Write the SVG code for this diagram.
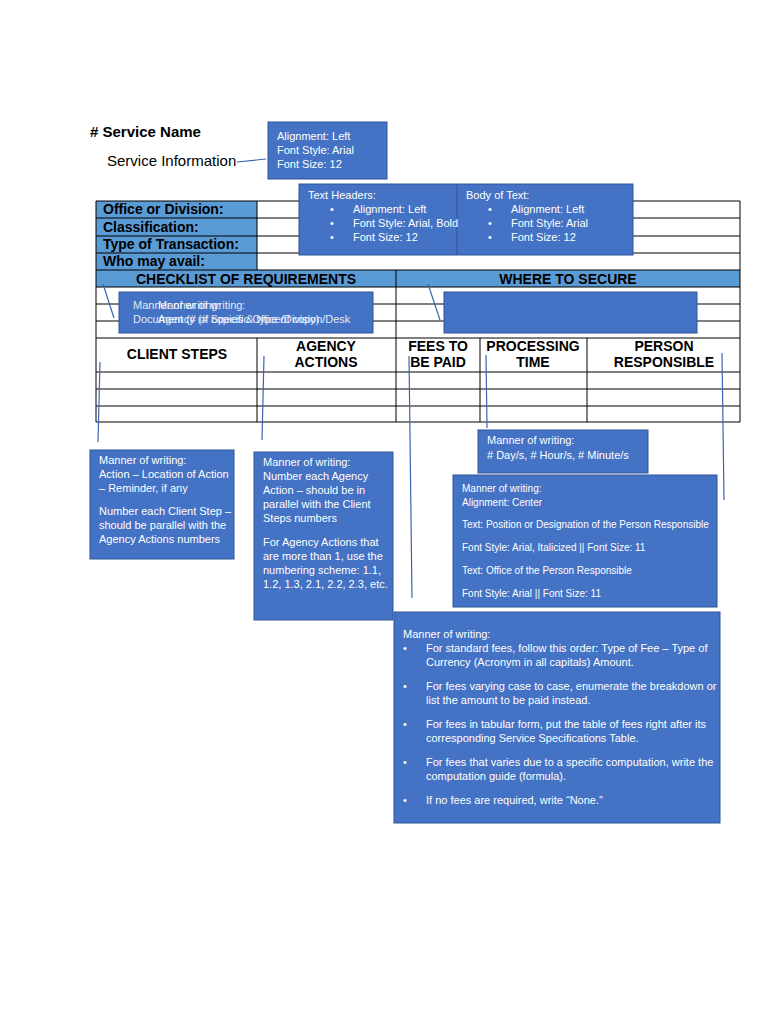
<svg xmlns="http://www.w3.org/2000/svg" width="768" height="1024" viewBox="0 0 768 1024">
<style>
.t{font-family:"Liberation Sans",Arial,sans-serif;fill:#000}
.b{font-weight:bold;font-size:14px}
.n{font-family:"Liberation Sans Narrow","Liberation Sans",sans-serif;fill:#fff;font-size:11px}
.s{font-size:10px}
.box{fill:#4472C4;stroke:#2F5597;stroke-width:1}
.g{fill:none;stroke:#000;stroke-width:1}
.lb{fill:#5B9BD5}
.c{fill:none;stroke:#3A64B0;stroke-width:1.2}
</style>
<rect width="768" height="1024" fill="#fff"/>
<text class="t" x="90" y="137" font-weight="bold" font-size="15">#  Service Name</text>
<text class="t" x="107" y="166" font-size="15">Service Information</text>
<g id="table">
<rect class="lb" x="96" y="201" width="161" height="69"/>
<rect class="lb" x="96" y="270" width="644" height="17"/>
<path class="g" d="M96 201H740M96 218H740M96 236H740M96 253H740M96 270H740M96 287H740M96 304H740M96 321H740M96 338H740M96 372H740M96 389H740M96 406H740M96 422H740M96 201V422M740 201V422M257 201V270M396 270V338M257 338V422M396 338V422M480 338V422M587 338V422"/>
<text class="t b" x="103" y="214">Office or Division:</text>
<text class="t b" x="103" y="232">Classification:</text>
<text class="t b" x="103" y="249">Type of Transaction:</text>
<text class="t b" x="103" y="266">Who may avail:</text>
<text class="t b" x="246" y="284" text-anchor="middle">CHECKLIST OF REQUIREMENTS</text>
<text class="t b" x="568" y="284" text-anchor="middle">WHERE TO SECURE</text>
<text class="t b" x="177" y="359" text-anchor="middle">CLIENT STEPS</text>
<text class="t b" x="326" y="351" text-anchor="middle">AGENCY</text>
<text class="t b" x="326" y="367" text-anchor="middle">ACTIONS</text>
<text class="t b" x="438" y="351" text-anchor="middle">FEES TO</text>
<text class="t b" x="438" y="367" text-anchor="middle">BE PAID</text>
<text class="t b" x="533" y="351" text-anchor="middle">PROCESSING</text>
<text class="t b" x="533" y="367" text-anchor="middle">TIME</text>
<text class="t b" x="664" y="351" text-anchor="middle">PERSON</text>
<text class="t b" x="664" y="367" text-anchor="middle">RESPONSIBLE</text>
</g>
<g id="connectors">
<path class="c" d="M237 162L266 159M103 284L114 318M428 284L440 320M100 362L98 442M264 356L262 440M409 356L412 598M486 355L487 428M722 353L724 500"/>
</g>
<g id="n1"><rect class="box" x="268" y="122" width="119" height="57"/>
<text class="n" x="277" y="140">Alignment: Left</text><text class="n" x="277" y="154">Font Style: Arial</text><text class="n" x="277" y="168">Font Size: 12</text></g>
<g id="n2"><rect class="box" x="299" y="184" width="334" height="71"/>
<path d="M457 184V255" stroke="#2F5597"/>
<text class="n" x="308" y="199">Text Headers:</text>
<text class="n" x="330" y="213">•</text><text class="n" x="353" y="213">Alignment: Left</text>
<text class="n" x="330" y="227">•</text><text class="n" x="353" y="227">Font Style: Arial, Bold</text>
<text class="n" x="330" y="241">•</text><text class="n" x="353" y="241">Font Size: 12</text>
<text class="n" x="466" y="199">Body of Text:</text>
<text class="n" x="488" y="213">•</text><text class="n" x="511" y="213">Alignment: Left</text>
<text class="n" x="488" y="227">•</text><text class="n" x="511" y="227">Font Style: Arial</text>
<text class="n" x="488" y="241">•</text><text class="n" x="511" y="241">Font Size: 12</text></g>
<g id="n3"><rect class="box" x="119" y="292" width="254" height="41"/>
<g opacity="0.85"><text class="n" x="133" y="309">Manner of writing:</text><text class="n" x="133" y="323">Document (# of copies &amp; type of copy)</text></g>
<g opacity="0.85"><text class="n" x="158" y="309">Manner of writing:</text><text class="n" x="158" y="323">Agency (# Specific Office/Division/Desk</text></g></g>
<g id="n4"><rect class="box" x="444" y="292" width="253" height="41"/></g>
<g id="n5"><rect class="box" x="90" y="450" width="144" height="109"/>
<text class="n" x="99" y="464">Manner of writing:</text><text class="n" x="99" y="478">Action – Location of Action</text><text class="n" x="99" y="492">– Reminder, if any</text>
<text class="n" x="99" y="515">Number each Client Step –</text><text class="n" x="99" y="529">should be parallel with the</text><text class="n" x="99" y="543">Agency Actions numbers</text></g>
<g id="n6"><rect class="box" x="254" y="452" width="139" height="168"/>
<text class="n" x="263" y="466">Manner of writing:</text><text class="n" x="263" y="480">Number each Agency</text><text class="n" x="263" y="494">Action – should be in</text><text class="n" x="263" y="508">parallel with the Client</text><text class="n" x="263" y="522">Steps numbers</text>
<text class="n" x="263" y="546">For Agency Actions that</text><text class="n" x="263" y="560">are more than 1, use the</text><text class="n" x="263" y="574">numbering scheme: 1.1,</text><text class="n" x="263" y="588">1.2, 1.3, 2.1, 2.2, 2.3, etc.</text></g>
<g id="n7"><rect class="box" x="478" y="430" width="170" height="43"/>
<text class="n" x="487" y="444">Manner of writing:</text><text class="n" x="487" y="459"># Day/s, # Hour/s, # Minute/s</text></g>
<g id="n8"><rect class="box" x="453" y="475" width="264" height="132"/>
<text class="n s" x="462" y="492">Manner of writing:</text><text class="n s" x="462" y="506">Alignment: Center</text>
<text class="n s" x="462" y="528">Text: Position or Designation of the Person Responsible</text>
<text class="n s" x="462" y="551">Font Style: Arial, Italicized || Font Size: 11</text>
<text class="n s" x="462" y="574">Text: Office of the Person Responsible</text>
<text class="n s" x="462" y="597">Font Style: Arial || Font Size: 11</text></g>
<g id="n9"><rect class="box" x="394" y="612" width="326" height="211"/>
<text class="n" x="403" y="638">Manner of writing:</text>
<text class="n" x="403" y="652">•</text><text class="n" x="426" y="652">For standard fees, follow this order: Type of Fee – Type of</text><text class="n" x="426" y="666">Currency (Acronym in all capitals) Amount.</text>
<text class="n" x="403" y="690">•</text><text class="n" x="426" y="690">For fees varying case to case, enumerate the breakdown or</text><text class="n" x="426" y="704">list the amount to be paid instead.</text>
<text class="n" x="403" y="728">•</text><text class="n" x="426" y="728">For fees in tabular form, put the table of fees right after its</text><text class="n" x="426" y="742">corresponding Service Specifications Table.</text>
<text class="n" x="403" y="766">•</text><text class="n" x="426" y="766">For fees that varies due to a specific computation, write the</text><text class="n" x="426" y="780">computation guide (formula).</text>
<text class="n" x="403" y="804">•</text><text class="n" x="426" y="804">If no fees are required, write “None.”</text></g>
</svg>
